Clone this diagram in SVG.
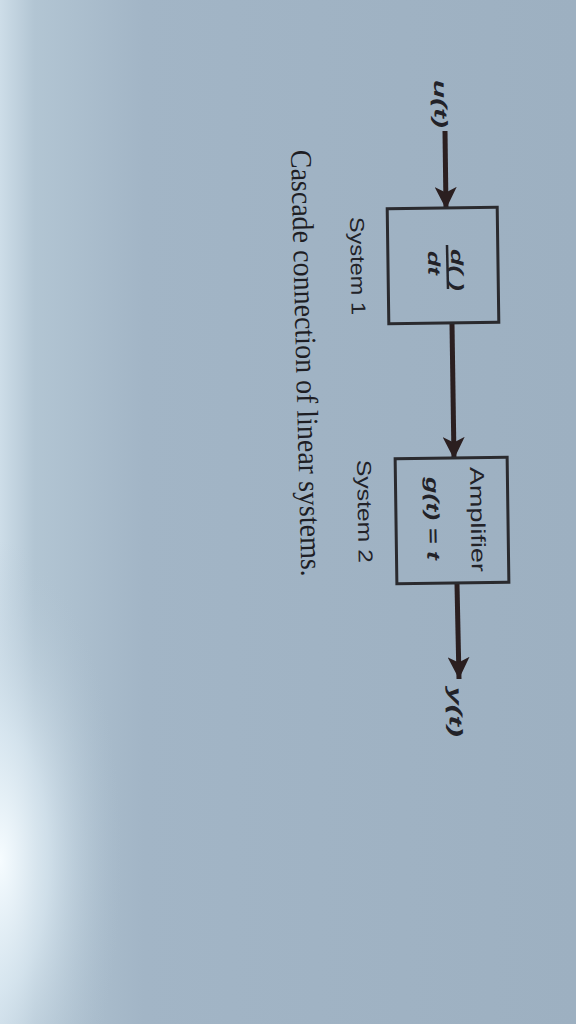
<svg xmlns="http://www.w3.org/2000/svg" width="576" height="1024" viewBox="0 0 576 1024">
  <defs>
    <linearGradient id="bg" x1="0" y1="0" x2="1" y2="0">
      <stop offset="0" stop-color="#cddde8"/>
      <stop offset="0.06" stop-color="#b2c5d3"/>
      <stop offset="0.25" stop-color="#a2b5c6"/>
      <stop offset="1" stop-color="#9db0c1"/>
    </linearGradient>
    <radialGradient id="glow" gradientUnits="userSpaceOnUse" cx="0" cy="860" r="320" gradientTransform="translate(0 860) scale(0.38 1) translate(0 -860)">
      <stop offset="0" stop-color="#f6fcff" stop-opacity="1"/>
      <stop offset="0.4" stop-color="#dceaf3" stop-opacity="0.7"/>
      <stop offset="1" stop-color="#b0c3d2" stop-opacity="0"/>
    </radialGradient>
    <marker id="arr" viewBox="0 0 10 10" refX="10" refY="5" markerWidth="4.4" markerHeight="4.4" markerUnits="strokeWidth" orient="auto">
      <path d="M0,0 L10,5 L0,10 L2.5,5 Z" fill="#2b1f20"/>
    </marker>
    <style>
      .box { fill: none; stroke: #2a2a2e; stroke-width: 3; }
      .wire { fill: none; stroke: #2b1f20; stroke-width: 5; marker-end: url(#arr); }
      .lbl { font-family: "Liberation Sans", Arial, sans-serif; fill: #222228; }
      .math { font-family: "Liberation Sans", Arial, sans-serif; font-style: italic; font-weight: bold; fill: #222228; }
      .cap { font-family: "Liberation Serif", "Times New Roman", serif; fill: #1e1e24; }
    </style>
  </defs>
  <rect x="0" y="0" width="576" height="1024" fill="url(#bg)"/>
  <rect x="0" y="0" width="576" height="1024" fill="url(#glow)"/>

  <g id="connectors">
    <line class="wire" x1="445" y1="131" x2="446" y2="209"/>
    <line class="wire" x1="452" y1="324" x2="454" y2="459"/>
    <line class="wire" x1="457" y1="584" x2="459" y2="679"/>
  </g>

  <g id="input">
    <text class="math" font-size="18" transform="translate(434,80) rotate(89)" textLength="48" lengthAdjust="spacingAndGlyphs">u(t)</text>
  </g>

  <g id="system1">
    <rect class="box" x="388" y="208" width="110" height="115" transform="rotate(-0.8 443 265)"/>
    <text class="math" font-size="17" transform="translate(451,249) rotate(89)" textLength="42" lengthAdjust="spacingAndGlyphs">d(&#160;)</text>
    <line x1="447" y1="245" x2="448" y2="289" stroke="#26262c" stroke-width="2.5"/>
    <text class="math" font-size="17" transform="translate(428,251) rotate(89)" textLength="24" lengthAdjust="spacingAndGlyphs">dt</text>
    <text class="lbl" font-size="20" transform="translate(350,217) rotate(89)" textLength="98" lengthAdjust="spacingAndGlyphs">System 1</text>
  </g>

  <g id="system2">
    <rect class="box" x="396" y="458" width="112" height="125" transform="rotate(-0.8 452 520)"/>
    <text class="lbl" font-size="20" transform="translate(470,467) rotate(89)" textLength="105" lengthAdjust="spacingAndGlyphs">Amplifier</text>
    <text class="math" font-size="18" transform="translate(426,477) rotate(89)" textLength="83" lengthAdjust="spacingAndGlyphs">g(t) = t</text>
    <text class="lbl" font-size="20" transform="translate(357,460) rotate(89)" textLength="103" lengthAdjust="spacingAndGlyphs">System 2</text>
  </g>

  <g id="output">
    <text class="math" font-size="18" transform="translate(449,687) rotate(89)" textLength="50" lengthAdjust="spacingAndGlyphs">y(t)</text>
  </g>

  <g id="caption">
    <text class="cap" font-size="30" transform="translate(291,150) rotate(88.6)" textLength="427" lengthAdjust="spacingAndGlyphs">Cascade connection of linear systems.</text>
  </g>
</svg>
